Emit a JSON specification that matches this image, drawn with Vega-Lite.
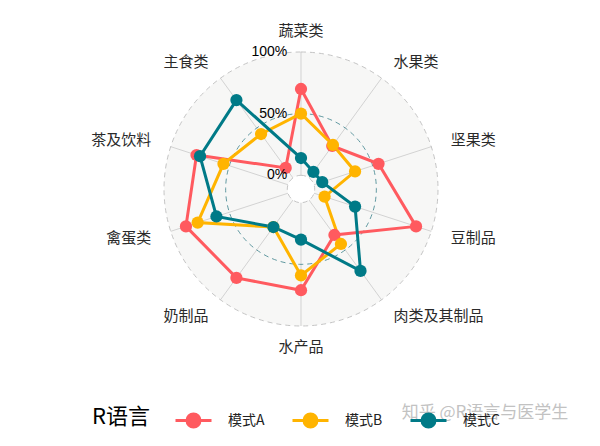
{
  "$schema": "https://vega.github.io/schema/vega-lite/v6.json",
  "width": 600,
  "height": 446,
  "autosize": "none",
  "padding": 0,
  "background": "white",
  "config": {"view": {"stroke": null}, "font": "Noto Sans CJK SC"},
  "datasets": {
    "scores": [
      {"mode": "模式A", "cat": "蔬菜类", "v": 0.70},
      {"mode": "模式A", "cat": "水果类", "v": 0.32},
      {"mode": "模式A", "cat": "坚果类", "v": 0.55},
      {"mode": "模式A", "cat": "豆制品", "v": 0.87},
      {"mode": "模式A", "cat": "肉类及其制品", "v": 0.35},
      {"mode": "模式A", "cat": "水产品", "v": 0.71},
      {"mode": "模式A", "cat": "奶制品", "v": 0.78},
      {"mode": "模式A", "cat": "禽蛋类", "v": 0.87},
      {"mode": "模式A", "cat": "茶及饮料", "v": 0.78},
      {"mode": "模式A", "cat": "主食类", "v": 0.10},
      {"mode": "模式B", "cat": "蔬菜类", "v": 0.50},
      {"mode": "模式B", "cat": "水果类", "v": 0.33},
      {"mode": "模式B", "cat": "坚果类", "v": 0.35},
      {"mode": "模式B", "cat": "豆制品", "v": 0.09},
      {"mode": "模式B", "cat": "肉类及其制品", "v": 0.44},
      {"mode": "模式B", "cat": "水产品", "v": 0.59},
      {"mode": "模式B", "cat": "奶制品", "v": 0.27},
      {"mode": "模式B", "cat": "禽蛋类", "v": 0.77},
      {"mode": "模式B", "cat": "茶及饮料", "v": 0.55},
      {"mode": "模式B", "cat": "主食类", "v": 0.44},
      {"mode": "模式C", "cat": "蔬菜类", "v": 0.14},
      {"mode": "模式C", "cat": "水果类", "v": 0.06},
      {"mode": "模式C", "cat": "坚果类", "v": 0.07},
      {"mode": "模式C", "cat": "豆制品", "v": 0.35},
      {"mode": "模式C", "cat": "肉类及其制品", "v": 0.71},
      {"mode": "模式C", "cat": "水产品", "v": 0.30},
      {"mode": "模式C", "cat": "奶制品", "v": 0.27},
      {"mode": "模式C", "cat": "禽蛋类", "v": 0.61},
      {"mode": "模式C", "cat": "茶及饮料", "v": 0.75},
      {"mode": "模式C", "cat": "主食类", "v": 0.78}
    ],
    "cats": [
      {"cat": "蔬菜类"}, {"cat": "水果类"}, {"cat": "坚果类"}, {"cat": "豆制品"},
      {"cat": "肉类及其制品"}, {"cat": "水产品"}, {"cat": "奶制品"}, {"cat": "禽蛋类"},
      {"cat": "茶及饮料"}, {"cat": "主食类"}
    ],
    "grid": [
      {"v": 0, "lab": "0%"},
      {"v": 0.5, "lab": "50%"},
      {"v": 1, "lab": "100%"}
    ]
  },
  "encoding": {
    "x": {"field": "x", "type": "quantitative", "axis": null,
          "scale": {"domain": [-2.4412, 2.425], "nice": false, "zero": false}},
    "y": {"field": "y", "type": "quantitative", "axis": null,
          "scale": {"domain": [-2.0844, 1.5328], "nice": false, "zero": false}}
  },
  "layer": [
    {
      "data": {"name": "grid"},
      "transform": [
        {"filter": "datum.v == 1"},
        {"calculate": "datum.v + 1/9", "as": "r"},
        {"calculate": "0", "as": "x"},
        {"calculate": "0", "as": "y"}
      ],
      "mark": {"type": "arc", "theta": 0, "theta2": 6.2832, "fill": "#F7F7F6", "strokeWidth": 0},
      "encoding": {
        "radius": {"field": "r", "type": "quantitative", "stack": null,
                   "scale": {"type": "linear", "domain": [0, 1.8086], "zero": true, "nice": false}}
      }
    },
    {
      "data": {"name": "cats"},
      "transform": [
        {"calculate": "indexof(['蔬菜类','水果类','坚果类','豆制品','肉类及其制品','水产品','奶制品','禽蛋类','茶及饮料','主食类'], datum.cat) * PI / 5", "as": "a"},
        {"calculate": "0", "as": "x"},
        {"calculate": "0", "as": "y"},
        {"calculate": "(10/9) * sin(datum.a)", "as": "xe"},
        {"calculate": "(10/9) * cos(datum.a)", "as": "ye"}
      ],
      "mark": {"type": "rule", "color": "#C9C9C9", "strokeWidth": 0.8},
      "encoding": {
        "x2": {"field": "xe"},
        "y2": {"field": "ye"}
      }
    },
    {
      "data": {"name": "grid"},
      "transform": [
        {"filter": "datum.v == 0"},
        {"calculate": "datum.v + 1/9", "as": "r"},
        {"calculate": "0", "as": "x"},
        {"calculate": "0", "as": "y"}
      ],
      "mark": {"type": "arc", "theta": 0, "theta2": 6.2832, "fill": "white", "strokeWidth": 0},
      "encoding": {
        "radius": {"field": "r", "type": "quantitative", "stack": null}
      }
    },
    {
      "data": {"name": "grid"},
      "transform": [
        {"calculate": "datum.v + 1/9", "as": "r"},
        {"calculate": "0", "as": "x"},
        {"calculate": "0", "as": "y"}
      ],
      "mark": {"type": "arc", "theta": 0, "theta2": 6.2832, "fill": null, "filled": false,
               "strokeWidth": 0.9, "strokeDash": [5, 4]},
      "encoding": {
        "radius": {"field": "r", "type": "quantitative", "stack": null},
        "stroke": {"condition": {"test": "datum.v == 0.5", "value": "#4F8D96"}, "value": "#BDBDBD"}
      }
    },
    {
      "data": {"name": "scores"},
      "transform": [
        {"calculate": "indexof(['蔬菜类','水果类','坚果类','豆制品','肉类及其制品','水产品','奶制品','禽蛋类','茶及饮料','主食类'], datum.cat) * PI / 5", "as": "a"},
        {"calculate": "(datum.v + 1/9) * sin(datum.a)", "as": "x"},
        {"calculate": "(datum.v + 1/9) * cos(datum.a)", "as": "y"}
      ],
      "layer": [
        {
          "mark": {"type": "line", "interpolate": "linear-closed", "strokeWidth": 3},
          "encoding": {
            "order": {"field": "a", "type": "quantitative"}
          }
        },
        {
          "mark": {"type": "point", "filled": true, "size": 150, "opacity": 1}
        }
      ],
      "encoding": {
        "color": {
          "field": "mode", "type": "nominal",
          "scale": {"domain": ["模式A", "模式B", "模式C"], "range": ["#FF5A5F", "#FFB400", "#007A87"]},
          "legend": {
            "title": "R语言",
            "orient": "none",
            "legendX": 92,
            "legendY": 401,
            "direction": "horizontal",
            "titleOrient": "left",
            "titleFontSize": 22,
            "titleFontWeight": "normal",
            "titleColor": "black",
            "titlePadding": 24,
            "labelFontSize": 14,
            "labelColor": "#222222",
            "labelOffset": 15,
            "columnPadding": 21,
            "symbolType": "M-1,0L1,0M0.36,0A0.36,0.36,0,1,1,-0.36,0A0.36,0.36,0,1,1,0.36,0Z",
            "symbolSize": 1296,
            "symbolStrokeWidth": 3,
            "symbolOpacity": 1
          }
        }
      }
    },
    {
      "data": {"name": "cats"},
      "transform": [
        {"calculate": "indexof(['蔬菜类','水果类','坚果类','豆制品','肉类及其制品','水产品','奶制品','禽蛋类','茶及饮料','主食类'], datum.cat) * PI / 5", "as": "a"},
        {"calculate": "1.15 * (10/9) * sin(datum.a)", "as": "x"},
        {"calculate": "1.15 * (10/9) * cos(datum.a)", "as": "y"}
      ],
      "layer": [
        {
          "transform": [{"filter": "datum.x > 0.01"}],
          "mark": {"type": "text", "align": "left", "baseline": "middle", "fontSize": 15, "color": "#2A2A2A"}
        },
        {
          "transform": [{"filter": "datum.x < -0.01"}],
          "mark": {"type": "text", "align": "right", "baseline": "middle", "fontSize": 15, "color": "#2A2A2A"}
        },
        {
          "transform": [{"filter": "abs(datum.x) <= 0.01"}],
          "mark": {"type": "text", "align": "center", "baseline": "middle", "fontSize": 15, "color": "#2A2A2A"}
        }
      ],
      "encoding": {
        "text": {"field": "cat"}
      }
    },
    {
      "data": {"name": "grid"},
      "transform": [
        {"calculate": "-1/9", "as": "x"},
        {"calculate": "datum.v + 1/9", "as": "y"}
      ],
      "mark": {"type": "text", "align": "right", "baseline": "middle", "fontSize": 14,
               "font": "Liberation Sans", "color": "black"},
      "encoding": {
        "text": {"field": "lab"}
      }
    },
    {
      "data": {"values": [{"mark": "知乎 @R语言与医学生", "x": 1.4923, "y": -1.8167}]},
      "mark": {"type": "text", "align": "center", "baseline": "middle", "fontSize": 17,
               "color": "#9A9A9A", "opacity": 0.6},
      "encoding": {
        "text": {"field": "mark"}
      }
    }
  ]
}
